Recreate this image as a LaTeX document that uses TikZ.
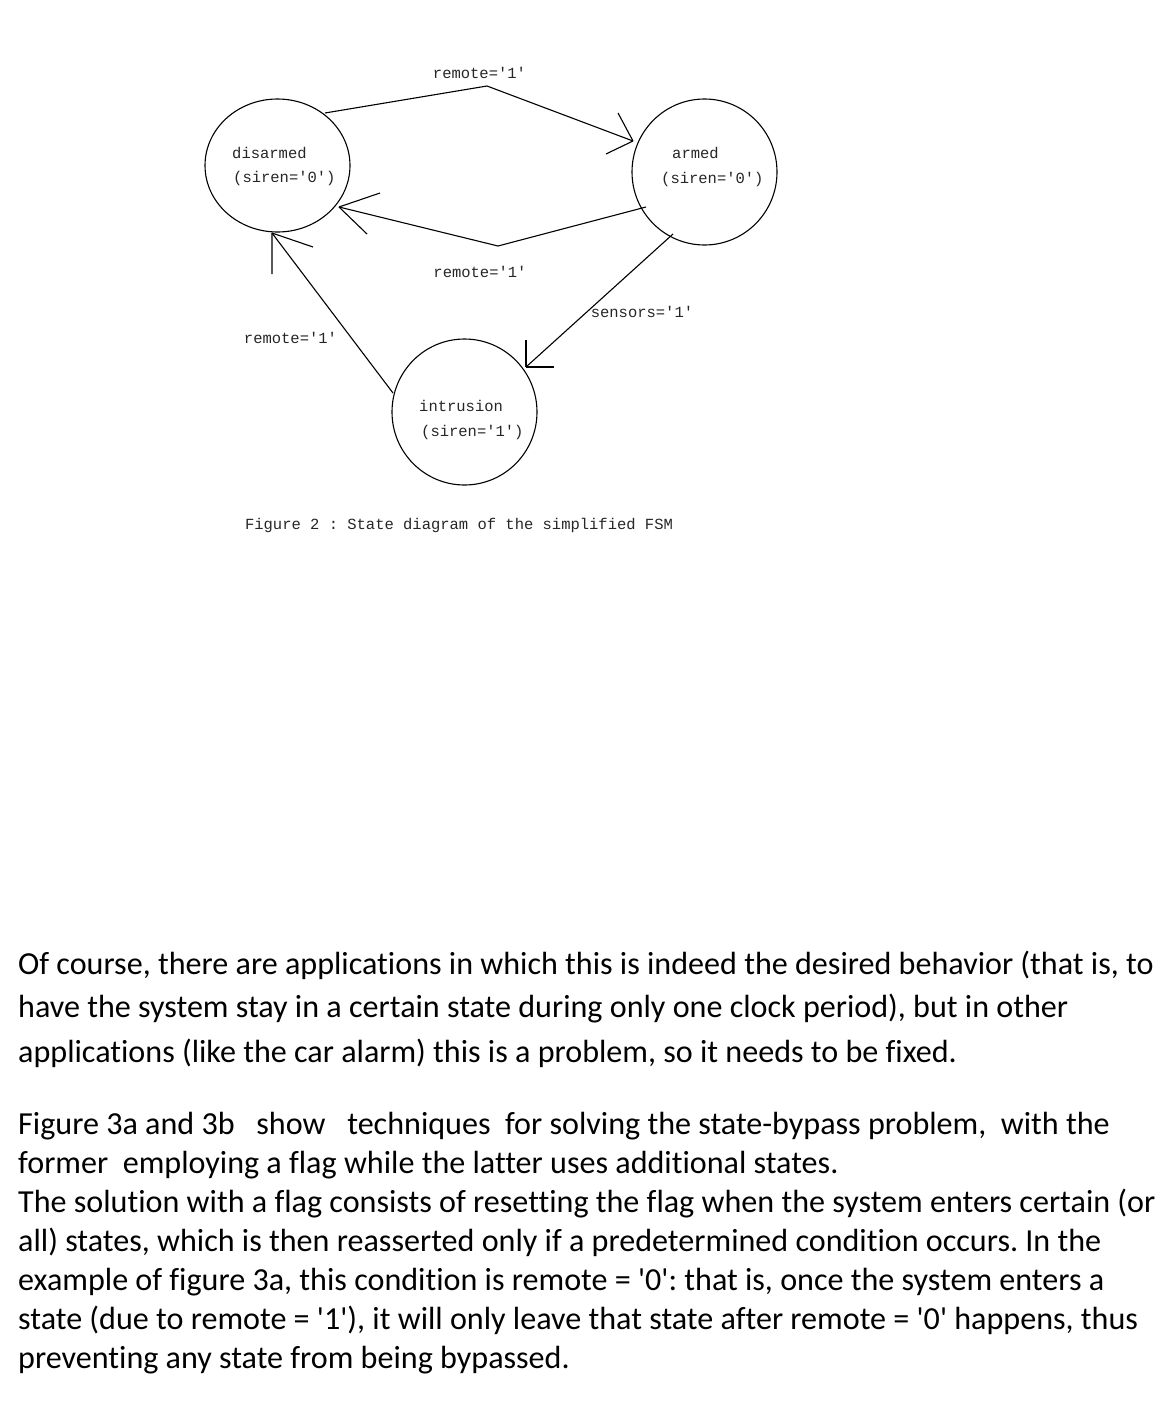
\documentclass[tikz,border=0pt]{standalone}
\usepackage{fontspec}
\setmainfont{Carlito}[Ligatures=CommonOff]
\setmonofont{Liberation Mono}
\usetikzlibrary{shapes.geometric}
\frenchspacing
\newcommand\sq{\XeTeXglyph\XeTeXcharglyph"27 }
\tikzset{
  state/.style={draw, line width=1.1pt, ellipse, inner sep=0pt},
  mono/.style={font=\ttfamily\fontsize{15.5}{18}\selectfont, text=black!85, inner sep=0pt},
  conn/.style={line width=1.1pt},
  body/.style={font=\fontsize{32.1}{38}\selectfont, anchor=base west, inner sep=0pt}
}
\begin{document}
\begin{tikzpicture}[x=1pt,y=-1pt]
\useasboundingbox (0,0) rectangle (1168,1422);
% states
\node[state, minimum width=145pt, minimum height=133pt] (dis) at (277.5,165.5) {};
\node[state, minimum width=145pt, minimum height=146pt] (arm) at (704.5,172) {};
\node[state, minimum width=145pt, minimum height=146pt] (intr) at (464.5,412) {};
% state texts
\node[mono, anchor=west] (disA) at (232,153) {disarmed};
\node[mono, anchor=west] (disB) at (233,178) {(siren=\sq0\sq)};
\node[mono, anchor=west] (armA) at (672,153) {armed};
\node[mono, anchor=west] (armB) at (661,179) {(siren=\sq0\sq)};
\node[mono, anchor=west] (intA) at (419,406) {intrusion};
\node[mono, anchor=west] (intB) at (421,432) {(siren=\sq1\sq)};
% bends
\coordinate (m1) at (487,86);
\coordinate (m2) at (498,246);
% arrow 1: disarmed -> armed
\draw[conn] ([shift={(47.5,-52.5)}]dis.center) -- (m1) -- ([shift={(-71.5,-31)}]arm.center) coordinate (t1);
\draw[conn] (t1) -- ++(-15,-28) (t1) -- ++(-27,13);
% arrow 2: armed -> disarmed
\draw[conn] ([shift={(-58.5,35)}]arm.center) -- (m2) -- ([shift={(61.5,41.5)}]dis.center) coordinate (t2);
\draw[conn] (t2) -- ++(41,-14) (t2) -- ++(28,27);
% arrow 3: intrusion -> disarmed
\draw[conn] ([shift={(-71.5,-19)}]intr.center) -- ([shift={(-5.5,67.5)}]dis.center) coordinate (t3);
\draw[conn] (t3) -- ++(41,14) (t3) -- ++(0,41);
% arrow 4: armed -> intrusion
\draw[conn] ([shift={(-31.5,62)}]arm.center) -- ([shift={(61.5,-45)}]intr.center) coordinate (t4);
\draw[conn] (t4) -- ++(0,-27) (t4) -- ++(28,0);
% labels
\node[mono] (l1) at (479.5,73) {remote=\sq1\sq};
\node[mono] (l2) at (480,272) {remote=\sq1\sq};
\node[mono] (l3) at (290.5,338) {remote=\sq1\sq};
\node[mono] (l4) at (642,312) {sensors=\sq1\sq};
\node[mono] (cap) at (459,525) {Figure 2 : State diagram of the simplified FSM};
% body text
\node[body] (p1a) at (18,974) {Of course, there are applications in which this is indeed the desired behavior (that is, to};
\node[body] (p1b) at (18,1017) {have the system stay in a certain state during only one clock period), but in other};
\node[body] (p1c) at (18,1062) {applications (like the car alarm) this is a problem, so it needs to be fixed.};
\node[body] (p2a) at (18,1134) {Figure 3a and 3b\ \ \ show\ \ \ techniques\ \ for solving the state-bypass problem,\ \ with the};
\node[body] (p2b) at (18,1173) {former\ \ employing a flag while the latter uses additional states.};
\node[body] (p2c) at (18,1212) {The solution with a flag consists of resetting the flag when the system enters certain (or};
\node[body] (p2d) at (18,1251) {all) states, which is then reasserted only if a predetermined condition occurs. In the};
\node[body] (p2e) at (18,1290) {example of figure 3a, this condition is remote = \sq0\sq: that is, once the system enters a};
\node[body] (p2f) at (18,1329) {state (due to remote = \sq1\sq), it will only leave that state after remote = \sq0\sq\ happens, thus};
\node[body] (p2g) at (18,1368) {preventing any state from being bypassed.};
\end{tikzpicture}
\end{document}
